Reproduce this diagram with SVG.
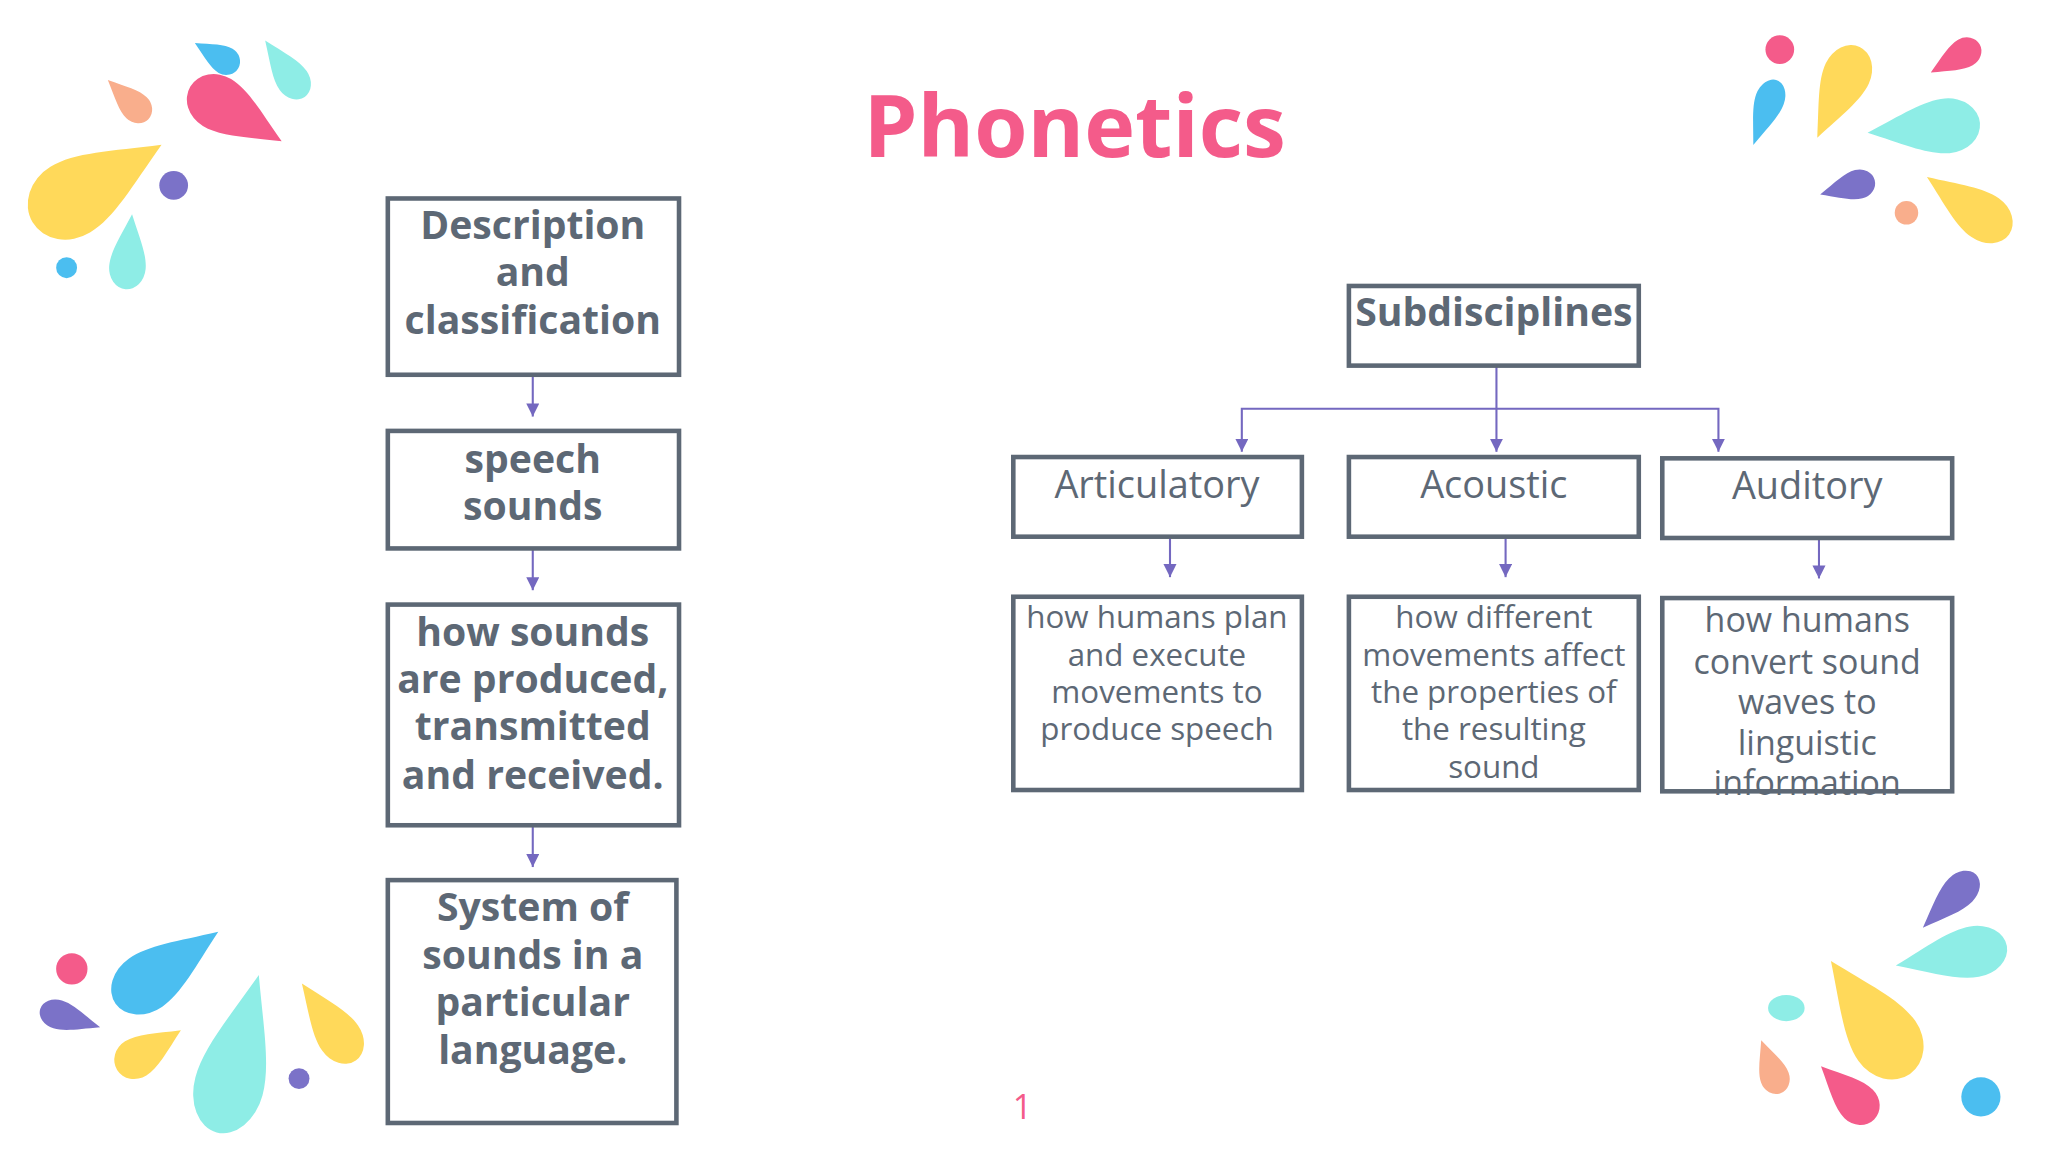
<svg xmlns="http://www.w3.org/2000/svg" width="2048" height="1152" viewBox="0 0 2048 1152">
<style>
.box{fill:#fff;stroke:#5d6875;stroke-width:3.5}
.b{font-family:"Open Sans","Noto Sans",sans-serif;font-weight:bold;font-size:30px;fill:#5d6875;text-anchor:middle}
.m{font-family:"Open Sans","Noto Sans",sans-serif;font-size:29px;fill:#5d6875;text-anchor:middle}
.s{font-family:"Open Sans","Noto Sans",sans-serif;font-size:24px;fill:#5d6875;text-anchor:middle}
.t{font-family:"Open Sans","Noto Sans",sans-serif;font-size:26px;fill:#5d6875;text-anchor:middle}
.c{fill:none;stroke:#7468c0;stroke-width:1.6}
</style>
<defs>
<path id="drop" d="M0,-60 C15,-30 28,-10 28,8 A28,28 0 0 1 -28,8 C-28,-10 -15,-30 0,-60Z"/>
<marker id="ah" viewBox="0 0 10 10" refX="10" refY="5" markerWidth="10" markerHeight="10" markerUnits="userSpaceOnUse" orient="auto-start-reverse">
<path d="M0,0 L10,5 L0,10Z" fill="#7468c0"/>
</marker>
</defs>
<rect width="2048" height="1152" fill="#fff"/>
<g transform="scale(1.3058)">
<g id="decor">
<use href="#drop" fill="#f45b8a" transform="translate(172,82) rotate(121) scale(0.75,0.85)"/>
<use href="#drop" fill="#ffd95a" transform="translate(62,148) rotate(59) scale(1.05,1.2)"/>
<use href="#drop" fill="#8eede6" transform="translate(98,200) rotate(5) scale(0.5,0.6)"/>
<circle cx="51" cy="205" r="8" fill="#4bbef0"/>
<circle cx="133" cy="142" r="11" fill="#7b72c8"/>
<use href="#drop" fill="#f9ae8c" transform="translate(102,80) rotate(-46) scale(0.4,0.45)"/>
<use href="#drop" fill="#4bbef0" transform="translate(170,45) rotate(-60) scale(0.38,0.4)"/>
<use href="#drop" fill="#8eede6" transform="translate(222,58) rotate(-35) scale(0.45,0.55)"/>

<circle cx="1363" cy="38" r="11" fill="#f45b8a"/>
<use href="#drop" fill="#ffd95a" transform="translate(1412,62) rotate(205) scale(0.65,0.8)"/>
<use href="#drop" fill="#4bbef0" transform="translate(1354,80) rotate(200) scale(0.4,0.55)"/>
<use href="#drop" fill="#f45b8a" transform="translate(1502,42) rotate(-120) scale(0.4,0.45)"/>
<use href="#drop" fill="#8eede6" transform="translate(1484,97) rotate(-95) scale(0.75,0.9)"/>
<use href="#drop" fill="#7b72c8" transform="translate(1420,142) rotate(-105) scale(0.4,0.45)"/>
<circle cx="1460" cy="163" r="9" fill="#f9ae8c"/>
<use href="#drop" fill="#ffd95a" transform="translate(1515,163) rotate(-55) scale(0.65,0.8)"/>

<circle cx="55" cy="742" r="12" fill="#f45b8a"/>
<use href="#drop" fill="#4bbef0" transform="translate(118,748) rotate(55) scale(0.8,1)"/>
<use href="#drop" fill="#7b72c8" transform="translate(48,778) rotate(107) scale(0.4,0.5)"/>
<use href="#drop" fill="#ffd95a" transform="translate(108,808) rotate(58) scale(0.55,0.6)"/>
<use href="#drop" fill="#8eede6" transform="translate(178,822) rotate(15) scale(0.95,1.3)"/>
<use href="#drop" fill="#ffd95a" transform="translate(257,790) rotate(-35) scale(0.6,0.75)"/>
<circle cx="229" cy="826" r="8" fill="#7b72c8"/>

<use href="#drop" fill="#7b72c8" transform="translate(1498,685) rotate(225) scale(0.45,0.6)"/>
<use href="#drop" fill="#8eede6" transform="translate(1505,730) rotate(-100) scale(0.7,0.9)"/>
<ellipse cx="1368" cy="772" rx="14" ry="10" fill="#8eede6"/>
<use href="#drop" fill="#ffd95a" transform="translate(1440,790) rotate(-35) scale(0.95,1.1)"/>
<use href="#drop" fill="#f9ae8c" transform="translate(1358,822) rotate(-20) scale(0.4,0.45)"/>
<use href="#drop" fill="#f45b8a" transform="translate(1420,842) rotate(-45) scale(0.55,0.6)"/>
<circle cx="1517" cy="840" r="15" fill="#4bbef0"/>
</g>

<text x="823" y="120" font-family="Open Sans, Noto Sans, sans-serif" font-weight="bold" font-size="66" fill="#f45b8a" text-anchor="middle">Phonetics</text>

<g id="connectors">
<line class="c" x1="408" y1="288" x2="408" y2="319" marker-end="url(#ah)"/>
<line class="c" x1="408" y1="421" x2="408" y2="452" marker-end="url(#ah)"/>
<line class="c" x1="408" y1="633" x2="408" y2="664" marker-end="url(#ah)"/>
<line class="c" x1="1146" y1="281" x2="1146" y2="346" marker-end="url(#ah)"/>
<polyline class="c" points="951,346 951,313 1316,313 1316,346" marker-start="url(#ah)" marker-end="url(#ah)"/>
<line class="c" x1="896" y1="412" x2="896" y2="442" marker-end="url(#ah)"/>
<line class="c" x1="1153" y1="412" x2="1153" y2="442" marker-end="url(#ah)"/>
<line class="c" x1="1393" y1="413" x2="1393" y2="443" marker-end="url(#ah)"/>
</g>

<g id="n1"><rect class="box" x="297" y="152" width="223" height="135"/>
<text class="b" x="408" y="183">Description</text><text class="b" x="408" y="219">and</text><text class="b" x="408" y="256">classification</text></g>
<g id="n2"><rect class="box" x="297" y="330" width="223" height="90"/>
<text class="b" x="408" y="362">speech</text><text class="b" x="408" y="398">sounds</text></g>
<g id="n3"><rect class="box" x="297" y="463" width="223" height="169"/>
<text class="b" x="408" y="495">how sounds</text><text class="b" x="408" y="531">are produced,</text><text class="b" x="408" y="567">transmitted</text><text class="b" x="408" y="604">and received.</text></g>
<g id="n4"><rect class="box" x="297" y="674" width="221" height="186"/>
<text class="b" x="408" y="705">System of</text><text class="b" x="408" y="742">sounds in a</text><text class="b" x="408" y="778">particular</text><text class="b" x="408" y="815">language.</text></g>

<g id="sub"><rect class="box" x="1033" y="219" width="222" height="61"/>
<text class="b" x="1144" y="250">Subdisciplines</text></g>
<g id="art"><rect class="box" x="776" y="350" width="221" height="61"/>
<text class="m" x="886" y="381">Articulatory</text></g>
<g id="aco"><rect class="box" x="1033" y="350" width="222" height="61"/>
<text class="m" x="1144" y="381">Acoustic</text></g>
<g id="aud"><rect class="box" x="1273" y="351" width="222" height="61"/>
<text class="m" x="1384" y="382">Auditory</text></g>

<g id="art2"><rect class="box" x="776" y="457" width="221" height="148"/>
<text class="s" x="886" y="481">how humans plan</text><text class="s" x="886" y="510">and execute</text><text class="s" x="886" y="538">movements to</text><text class="s" x="886" y="567">produce speech</text></g>
<g id="aco2"><rect class="box" x="1033" y="457" width="222" height="148"/>
<text class="s" x="1144" y="481">how different</text><text class="s" x="1144" y="510">movements affect</text><text class="s" x="1144" y="538">the properties of</text><text class="s" x="1144" y="567">the resulting</text><text class="s" x="1144" y="596">sound</text></g>
<g id="aud2"><rect class="box" x="1273" y="458" width="222" height="148"/>
<text class="t" x="1384" y="484">how humans</text><text class="t" x="1384" y="516">convert sound</text><text class="t" x="1384" y="547">waves to</text><text class="t" x="1384" y="578">linguistic</text><text class="t" x="1384" y="609">information</text></g>

<text x="783" y="857" font-family="Open Sans, Noto Sans, sans-serif" font-size="26" fill="#f45b8a" text-anchor="middle">1</text>
</g>
</svg>
